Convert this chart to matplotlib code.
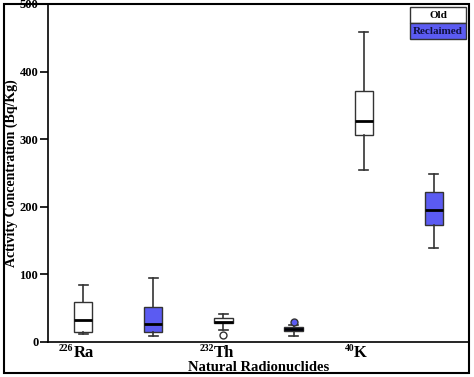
import matplotlib
matplotlib.use("Agg")
from matplotlib import pyplot as plt
from matplotlib.patches import Rectangle
import numpy as np

plt.rcParams['font.family'] = ['Liberation Serif', 'DejaVu Serif']
plt.rcParams['font.weight'] = 'bold'

# box statistics, order: Ra old, Ra reclaimed, Th old, Th reclaimed, K old, K reclaimed
whislo = [12, 9, 18, 9.5, 254, 139]
q1 = [15, 15, 28, 16, 306, 173]
med = [33, 26, 30, 19, 327, 195]
q3 = [59, 52, 35, 22, 372, 222]
whishi = [85, 94, 42, 25, 458, 248]
fliers = [[], [], [10.5], [30], [], []]
groups = ["Old", "Reclaimed", "Old", "Reclaimed", "Old", "Reclaimed"]
mass_numbers = ["226", "232", "40"]
elements = ["Ra", "Th", "K"]

colors = {"Old": "white", "Reclaimed": "#5b5bf2"}

stats = []
for i in range(6):
    stats.append(dict(whislo=whislo[i], q1=q1[i], med=med[i], q3=q3[i],
                      whishi=whishi[i], fliers=fliers[i]))

fig = plt.figure(figsize=(4.74, 3.77), dpi=100)
ax = fig.add_axes([48/474, 35/377, 421/474, 338/377])

positions = np.arange(1, 7)
bp = ax.bxp(stats, positions=positions, widths=0.26, patch_artist=True,
            showfliers=True,
            boxprops=dict(linewidth=1.0, edgecolor="#333333"),
            medianprops=dict(color="black", linewidth=2),
            whiskerprops=dict(color="#333333", linewidth=1.2),
            capprops=dict(color="#333333", linewidth=1.2),
            capwidths=0.13)
for patch, g in zip(bp['boxes'], groups):
    patch.set_facecolor(colors[g])
for fl, g in zip(bp['fliers'], groups):
    fl.set_marker('o')
    fl.set_markersize(5)
    fl.set_markerfacecolor(colors[g])
    fl.set_markeredgecolor("#333333")

ax.set_xlim(0.5, 6.5)
ax.set_ylim(0, 500)
ax.set_yticks([0, 100, 200, 300, 400, 500])
ax.set_xticks([])
ax.tick_params(axis='y', length=6, width=1.2, labelsize=9, pad=1)
for s in ax.spines.values():
    s.set_linewidth(1.2)

# nuclide labels with superscript mass numbers
trans = ax.get_xaxis_transform()
for k, (m, e) in enumerate(zip(mass_numbers, elements)):
    x = positions[2 * k]
    ax.annotate(e, xy=(x, 0), xycoords=trans, xytext=(-7, -2), textcoords='offset points',
                ha='left', va='top', fontsize=12, fontweight='bold')
    ax.annotate(m, xy=(x, 0), xycoords=trans, xytext=(-7, -1.5), textcoords='offset points',
                ha='right', va='top', fontsize=7, fontweight='bold')

ax.set_xlabel("Natural Radionuclides", fontsize=10.5, fontweight='bold')
ax.xaxis.set_label_coords(0.5, -0.056)
ax.set_ylabel("Activity Concentration (Bq/Kg)", fontsize=10, fontweight='bold')
ax.yaxis.set_label_coords(-0.071, 0.5)

# legend drawn as two stacked cells
leg_x0, leg_w, cell_h = 0.860, 0.133, 0.047
leg_y_top = 0.990
for j, g in enumerate(["Old", "Reclaimed"]):
    y0 = leg_y_top - (j + 1) * cell_h
    ax.add_patch(Rectangle((leg_x0, y0), leg_w, cell_h, transform=ax.transAxes,
                           facecolor=colors[g], edgecolor="#333333", linewidth=1.0,
                           clip_on=False, zorder=5))
    ax.text(leg_x0 + leg_w / 2, y0 + cell_h / 2, g, transform=ax.transAxes,
            ha='center', va='center', fontsize=8, fontweight='bold',
            color="black" if g == "Old" else "#101040", zorder=6)

# outer frame around the whole figure
fig.patches.append(Rectangle((4/474, 4/377), 465/474, 369/377, transform=fig.transFigure,
                             fill=False, edgecolor="black", linewidth=1.5))

fig.savefig("out.png", dpi=100)
